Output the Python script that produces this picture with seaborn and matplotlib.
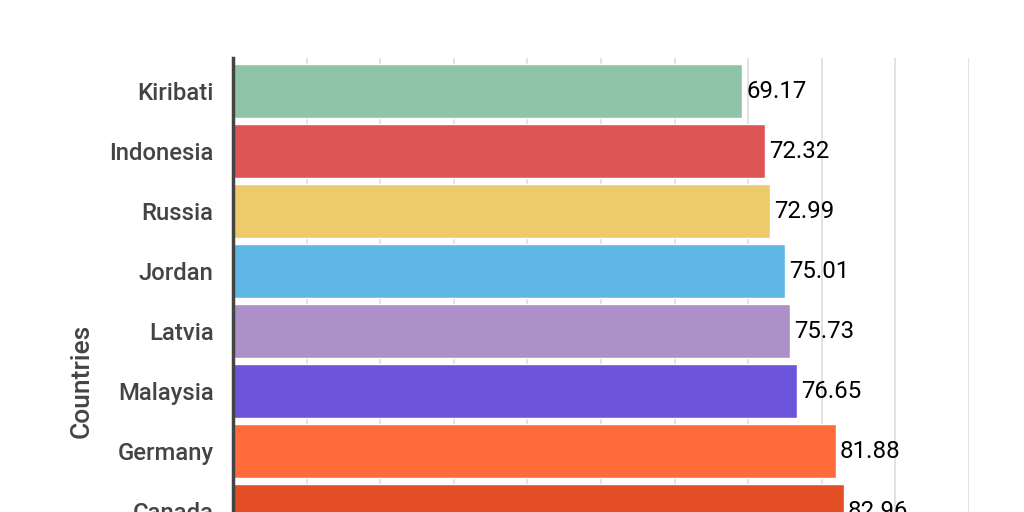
import matplotlib
matplotlib.use("Agg")
import matplotlib.pyplot as plt
import seaborn as sns
import pandas as pd

# Dados
paises = ["Kiribati", "Indonesia", "Russia", "Jordan", "Latvia", "Malaysia", "Germany", "Canada"]
valores = [69.17, 72.32, 72.99, 75.01, 75.73, 76.65, 81.88, 82.96]
cores = ["#8FC4A8", "#DD5555", "#EDCB6B", "#5EB7E5", "#AB91C8", "#6C55DB", "#FF6B3B", "#E44E24"]

df = pd.DataFrame({"Countries": paises, "Valor": valores})

sns.set_theme(style="white")
plt.rcParams["font.family"] = ["Roboto", "DejaVu Sans"]

fig = plt.figure(figsize=(10.24, 5.12), dpi=100)
# eixo maior que a figura: a parte de baixo fica cortada, como na referência
ax = fig.add_axes([233 / 1024, (512 - 544) / 512, 736 / 1024, 486 / 512])

sns.barplot(data=df, y="Countries", x="Valor", hue="Countries", palette=cores,
            orient="h", width=0.9, legend=False, ax=ax, saturation=1)

ax.set_xlim(0, 100)
ax.set_ylim(7.55, -0.55)
ax.set_xticks(range(0, 101, 10))
ax.tick_params(axis="x", length=0, labelbottom=False)
ax.tick_params(axis="y", length=0, pad=14, labelsize=17.2, labelcolor="#444444")
for t in ax.get_yticklabels():
    t.set_fontweight("medium")
ax.grid(axis="x", color="#dddddd", linewidth=1.2)
ax.set_axisbelow(True)

for lado in ["top", "right", "bottom"]:
    ax.spines[lado].set_visible(False)
ax.spines["left"].set_color("#444444")
ax.spines["left"].set_linewidth(2.5)

for cont in ax.containers:
    ax.bar_label(cont, labels=[f"{v:.2f}" for v in cont.datavalues],
                 padding=3, fontsize=17.3, color="black")

ax.set_xlabel("")
ax.set_ylabel("Countries", fontsize=19, color="#444444", fontweight="medium")
ax.yaxis.set_label_coords(-0.189, 0.335)

fig.savefig("out.png", dpi=100)
